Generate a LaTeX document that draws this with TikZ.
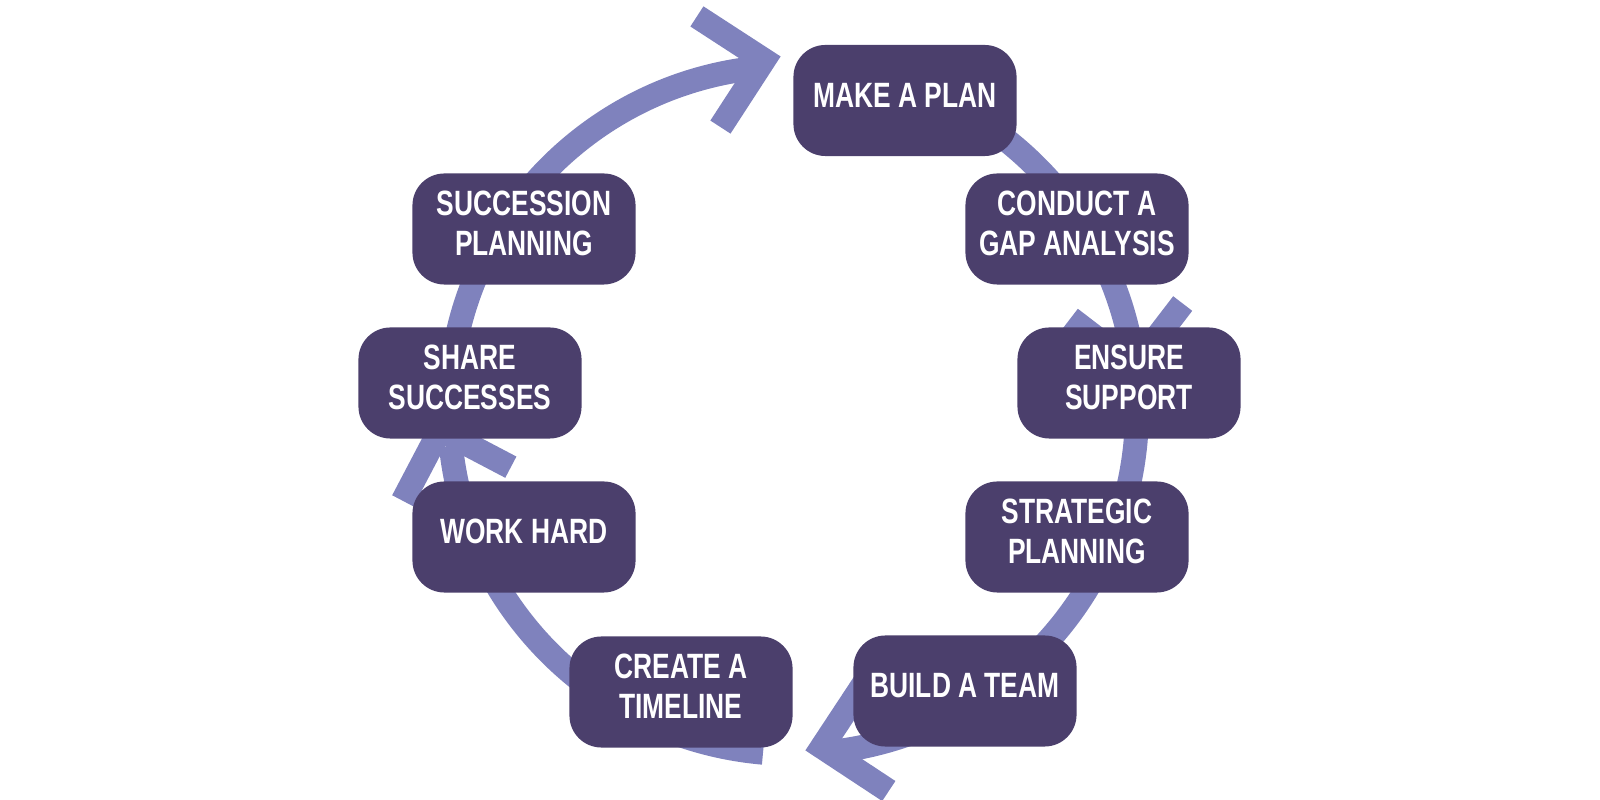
\documentclass[tikz,border=0pt]{standalone}
\usepackage{fontspec}
\newfontfamily\boxfont[FakeStretch=0.75]{Liberation Sans}
\usetikzlibrary{calc}
\definecolor{boxfill}{HTML}{4B3F6C}
\definecolor{ringcol}{HTML}{7F82BD}
\begin{document}
\begin{tikzpicture}[x=0.01cm,y=0.01cm,
  stepbox/.style={fill=boxfill, rounded corners=0.32cm, minimum width=2.23cm,
    minimum height=1.11cm, inner sep=0pt, text=white, align=center,
    font=\boxfont\bfseries\fontsize{10}{11.4}\selectfont,
    execute at end node={\rule[-0.11cm]{0pt}{0pt}}},
  ring/.style={draw=ringcol, line width=0.24cm, line cap=butt},
  chev/.style={ring, line join=miter, miter limit=10}]
\useasboundingbox (0,0) rectangle (1600,800);
\coordinate (C) at (793,390);
% shafts
\draw[ring] (C) ++(178:344) arc[start angle=178, end angle=97, radius=344];
\draw[ring] (C) ++(80:344) arc[start angle=80, end angle=9, radius=344];
\draw[ring] (C) ++(0:344) arc[start angle=0, end angle=-83, radius=344];
\draw[ring] (C) ++(265:344) arc[start angle=265, end angle=186, radius=344];
% arrow heads
\coordinate (A1) at (764,740);
\coordinate (A2) at (1134,433);
\coordinate (A3) at (822,53);
\coordinate (A4) at (440,370);
\draw[chev] ($(A1)+(147:80)$) -- (A1) -- ($(A1)+(237:80)$);
\draw[chev] ($(A2)+(52.5:80)$) -- (A2) -- ($(A2)+(142.5:80)$);
\draw[chev] ($(A3)+(56.6:80)$) -- (A3) -- ($(A3)+(-33.4:80)$);
\draw[chev] ($(A4)+(242.3:80)$) -- (A4) -- ($(A4)+(332.3:80)$);
% boxes
\node[stepbox] (mp)    at (905,699.5) {MAKE A PLAN};
\node[stepbox] (gap)   at (1077,571)  {CONDUCT A\\GAP ANALYSIS};
\node[stepbox] (ens)   at (1129,417)  {ENSURE\\SUPPORT};
\node[stepbox] (strat) at (1077,263)  {STRATEGIC\\PLANNING};
\node[stepbox] (team)  at (965,109)   {BUILD A TEAM};
\node[stepbox] (time)  at (681,108)   {CREATE A\\TIMELINE};
\node[stepbox] (work)  at (524,263)   {WORK HARD};
\node[stepbox] (share) at (470,417)   {SHARE\\SUCCESSES};
\node[stepbox] (succ)  at (524,571)   {SUCCESSION\\PLANNING};
\end{tikzpicture}
\end{document}
